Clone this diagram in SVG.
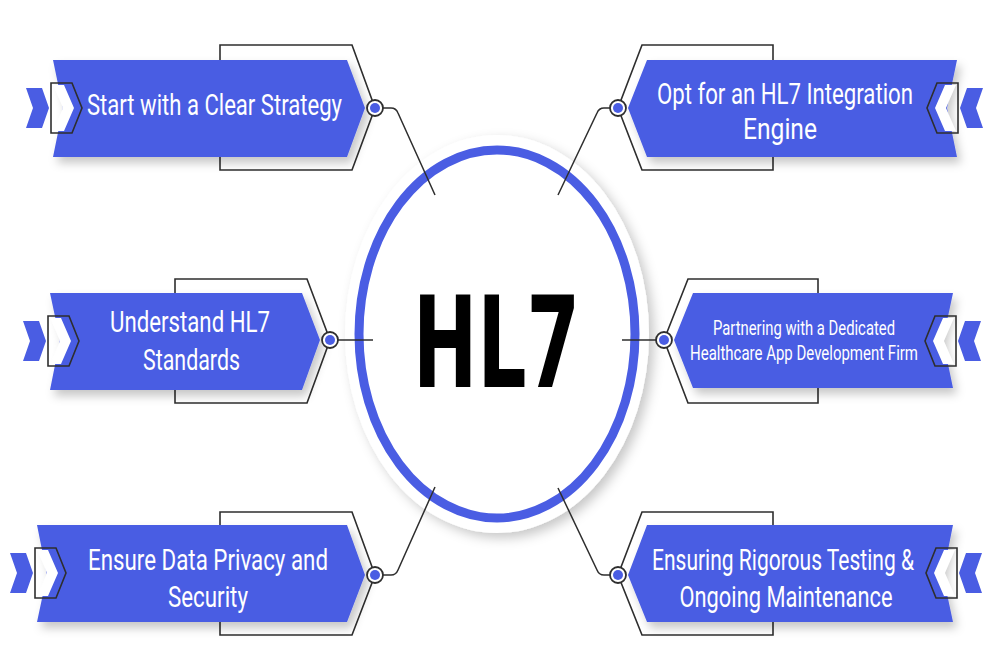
<svg xmlns="http://www.w3.org/2000/svg" width="1000" height="668" viewBox="0 0 1000 668">
<defs>
<style>
.blue{fill:#4a5de3}
.outl{fill:none;stroke:#2e2e2e;stroke-width:1.6;stroke-linejoin:miter}
.lbl{fill:#ffffff;font-family:Roboto,"Liberation Sans",sans-serif;font-size:29px;text-anchor:middle}
.sm{font-size:20px}
.conn{fill:none;stroke:#2e2e2e;stroke-width:1.5}
.dot{fill:#ffffff;stroke:#2e2e2e;stroke-width:1.8}
.dotin{fill:#4a5de3}
</style>
<filter id="sh" x="-20%" y="-30%" width="140%" height="170%">
<feDropShadow dx="4" dy="6" stdDeviation="5" flood-color="#000" flood-opacity="0.22"/>
</filter>
<filter id="csh" x="-20%" y="-20%" width="140%" height="140%">
<feDropShadow dx="5" dy="5" stdDeviation="6" flood-color="#000" flood-opacity="0.22"/>
</filter>
<g id="chev">
<polygon class="blue" points="-25,-20 -9,-20 -2,0 -9,20 -25,20 -18,0"/>
<polygon points="2,-23 13,-23 23,0 13,23 2,23 12,0" fill="#ffffff"/>
<polygon points="0,-25 21,-25 31,0 21,25 0,25" fill="none" stroke="#2e2e2e" stroke-width="1.6"/>
</g>
</defs>
<rect width="1000" height="668" fill="#ffffff"/>

<g id="center">
<ellipse cx="497" cy="334" rx="152" ry="199" fill="#ffffff" filter="url(#csh)"/>
<ellipse cx="497" cy="334" rx="138" ry="184" fill="#ffffff" stroke="#4a5de3" stroke-width="9"/>
<text x="496.5" y="387" font-family="'DejaVu Sans','Liberation Sans',sans-serif" font-weight="bold" font-size="126" text-anchor="middle" textLength="167" lengthAdjust="spacingAndGlyphs" fill="#000000">HL7</text>
</g>

<g id="connectors">
<path class="conn" d="M383,108 H391 Q396,108 398,113 L435,195"/>
<path class="conn" d="M610,108 H604 Q599,108 597,113 L558,195"/>
<path class="conn" d="M338,340 H373"/>
<path class="conn" d="M622,340 H656"/>
<path class="conn" d="M383,575 H391 Q396,575 398,570 L435,487"/>
<path class="conn" d="M610,575 H604 Q599,575 597,570 L558,488"/>
</g>

<g id="n1">
<path class="outl" d="M220,60 V45 H352 L375,108 L352,170 H220 V157"/>
<path class="blue" filter="url(#sh)" d="M53,60 H347 L365,108 L347,157 H53 L63,108 Z"/>
<use href="#chev" transform="translate(51,108)"/>
<text class="lbl" x="214.5" y="115" textLength="255" lengthAdjust="spacingAndGlyphs">Start with a Clear Strategy</text>
<circle class="dot" cx="375" cy="108" r="8"/><circle class="dotin" cx="375" cy="108" r="5"/>
</g>

<g id="n2">
<path class="outl" d="M773,60 V45 H642 L618,108 L642,170 H773 V157"/>
<path class="blue" filter="url(#sh)" d="M647,60 H957 L947,108 L957,157 H647 L628,108 Z"/>
<use href="#chev" transform="translate(958,108) scale(-1,1)"/>
<text class="lbl" x="785" y="104" textLength="256" lengthAdjust="spacingAndGlyphs">Opt for an HL7 Integration</text>
<text class="lbl" x="780" y="139" textLength="74" lengthAdjust="spacingAndGlyphs">Engine</text>
<circle class="dot" cx="618" cy="108" r="8"/><circle class="dotin" cx="618" cy="108" r="5"/>
</g>

<g id="n3">
<path class="outl" d="M175,293 V279 H307 L330,340 L307,403 H175 V390"/>
<path class="blue" filter="url(#sh)" d="M50,293 H302 L320,340 L302,390 H50 L60,340 Z"/>
<use href="#chev" transform="translate(48,341)"/>
<text class="lbl" x="190" y="332" textLength="160" lengthAdjust="spacingAndGlyphs">Understand HL7</text>
<text class="lbl" x="191.5" y="370" textLength="97" lengthAdjust="spacingAndGlyphs">Standards</text>
<circle class="dot" cx="330" cy="340" r="8"/><circle class="dotin" cx="330" cy="340" r="5"/>
</g>

<g id="n4">
<path class="outl" d="M818,293 V279 H688 L664,340 L688,403 H818 V388"/>
<path class="blue" filter="url(#sh)" d="M693,293 H953 L943,340 L953,388 H693 L674,340 Z"/>
<use href="#chev" transform="translate(956,341) scale(-1,1)"/>
<text class="lbl sm" x="804" y="335" textLength="182" lengthAdjust="spacingAndGlyphs">Partnering with a Dedicated</text>
<text class="lbl sm" x="804" y="360" textLength="228" lengthAdjust="spacingAndGlyphs">Healthcare App Development Firm</text>
<circle class="dot" cx="664" cy="340" r="8"/><circle class="dotin" cx="664" cy="340" r="5"/>
</g>

<g id="n5">
<path class="outl" d="M220,525 V512 H352 L375,575 L352,635 H220 V622"/>
<path class="blue" filter="url(#sh)" d="M37,525 H347 L365,575 L347,622 H37 L47,575 Z"/>
<use href="#chev" transform="translate(35,573)"/>
<text class="lbl" x="208" y="570" textLength="240" lengthAdjust="spacingAndGlyphs">Ensure Data Privacy and</text>
<text class="lbl" x="208" y="607" textLength="80" lengthAdjust="spacingAndGlyphs">Security</text>
<circle class="dot" cx="375" cy="575" r="8"/><circle class="dotin" cx="375" cy="575" r="5"/>
</g>

<g id="n6">
<path class="outl" d="M773,525 V512 H642 L618,575 L642,635 H773 V622"/>
<path class="blue" filter="url(#sh)" d="M647,525 H953 L943,575 L953,622 H647 L628,575 Z"/>
<use href="#chev" transform="translate(957,573) scale(-1,1)"/>
<text class="lbl" x="783" y="570" textLength="262" lengthAdjust="spacingAndGlyphs">Ensuring Rigorous Testing &amp;</text>
<text class="lbl" x="786" y="607" textLength="213" lengthAdjust="spacingAndGlyphs">Ongoing Maintenance</text>
<circle class="dot" cx="618" cy="575" r="8"/><circle class="dotin" cx="618" cy="575" r="5"/>
</g>
</svg>
